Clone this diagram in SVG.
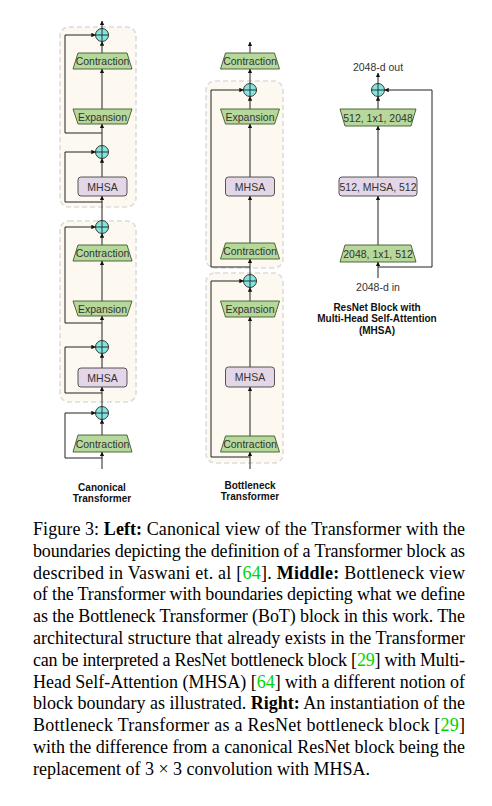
<svg xmlns="http://www.w3.org/2000/svg" width="492" height="806" viewBox="0 0 492 806">
<defs>
<marker id="ah" viewBox="0 0 8 8" refX="7.5" refY="4" markerWidth="4.5" markerHeight="4.5" orient="auto" markerUnits="userSpaceOnUse">
<path d="M0,0 L8,4 L0,8 Z" fill="#111"/>
</marker>
<style>
.bnd{fill:#fdf9f0;stroke:#dcdcdc;stroke-width:1.6;stroke-dasharray:5 3}
.tz{fill:#b7d89b;stroke:#3f5a2a;stroke-width:0.9}
.mh{fill:#e3d6e6;stroke:#444;stroke-width:0.9}
.pl{fill:#82e6df;stroke:#222;stroke-width:0.9}
.cr{stroke:#222;stroke-width:0.9}
.ln{fill:none;stroke:#222;stroke-width:1}
.ar{fill:none;stroke:#222;stroke-width:1;marker-end:url(#ah)}
.nt{font-family:"Liberation Sans",Arial,sans-serif;font-size:10.5px;fill:#333;text-anchor:middle}
.rt{font-family:"Liberation Sans",Arial,sans-serif;font-size:10.5px;fill:#333;text-anchor:middle}
.lb{font-family:"Liberation Sans",Arial,sans-serif;font-size:10px;font-weight:bold;fill:#111;text-anchor:middle}
.cap{font-family:"Liberation Serif","Times New Roman",serif;font-size:18px;fill:#000}
.b{font-weight:bold}
.g{fill:#00d400}
</style>
</defs>
<rect width="492" height="806" fill="#fff"/>

<g id="boundaries">
<rect class="bnd" x="60" y="27" width="76" height="180" rx="9"/>
<rect class="bnd" x="60" y="221" width="76" height="181" rx="9"/>
<rect class="bnd" x="206" y="81" width="77" height="187" rx="9"/>
<rect class="bnd" x="206" y="273" width="77" height="190" rx="9"/>
</g>

<g id="connectors">
<line class="ar" x1="102" y1="29" x2="102" y2="21"/>
<line class="ar" x1="102" y1="53" x2="102" y2="41.5"/>
<line class="ar" x1="102" y1="109" x2="102" y2="69"/>
<line class="ar" x1="102" y1="145.5" x2="102" y2="124"/>
<path class="ar" d="M102,133 H65 V35 H95.5"/>
<line class="ar" x1="102" y1="177" x2="102" y2="158.5"/>
<line class="ar" x1="102" y1="220.5" x2="102" y2="196"/>
<path class="ar" d="M102,202 H65 V152 H95.5"/>
<line class="ar" x1="102" y1="245" x2="102" y2="233.5"/>
<line class="ar" x1="102" y1="301" x2="102" y2="261"/>
<line class="ar" x1="102" y1="340.5" x2="102" y2="316"/>
<path class="ar" d="M102,323 H65 V227 H95.5"/>
<line class="ar" x1="102" y1="368" x2="102" y2="353.5"/>
<line class="ar" x1="102" y1="406.5" x2="102" y2="387"/>
<path class="ar" d="M102,393 H65 V347 H95.5"/>
<line class="ar" x1="102" y1="435" x2="102" y2="419.5"/>
<path class="ar" d="M102,458 H65 V413 H95.5"/>
<line class="ar" x1="102" y1="469" x2="102" y2="452"/>
<line class="ar" x1="250" y1="53" x2="250" y2="42"/>
<line class="ar" x1="250" y1="83.5" x2="250" y2="69"/>
<line class="ar" x1="250" y1="109" x2="250" y2="96.5"/>
<line class="ar" x1="250" y1="177" x2="250" y2="124"/>
<line class="ar" x1="250" y1="243" x2="250" y2="196"/>
<path class="ar" d="M250,267 H211 V90 H243.5"/>
<line class="ar" x1="250" y1="274.5" x2="250" y2="259"/>
<line class="ar" x1="250" y1="301" x2="250" y2="287.5"/>
<line class="ar" x1="250" y1="367" x2="250" y2="317"/>
<line class="ar" x1="250" y1="436" x2="250" y2="387"/>
<path class="ar" d="M250,457 H211 V281 H243.5"/>
<line class="ar" x1="250" y1="469" x2="250" y2="452"/>
<line class="ar" x1="378" y1="83.5" x2="378" y2="73"/>
<line class="ar" x1="378" y1="109" x2="378" y2="96.5"/>
<line class="ar" x1="378" y1="177" x2="378" y2="126"/>
<line class="ar" x1="378" y1="245" x2="378" y2="196"/>
<path class="ar" d="M378,267 H432 V90 H384.5"/>
<line class="ar" x1="378" y1="278" x2="378" y2="262"/>
</g>

<g id="l-plus1"><circle class="pl" cx="102" cy="35" r="6.5"/><path class="cr" d="M95.5,35 H108.5 M102,28.5 V41.5"/></g>
<g id="l-contraction1"><polygon class="tz" points="78,53 127,53 132,69 73,69"/><text class="nt" x="102.5" y="65">Contraction</text></g>
<g id="l-expansion1"><polygon class="tz" points="73,109 132,109 127,124 78,124"/><text class="nt" x="102.5" y="120.5">Expansion</text></g>
<g id="l-plus2"><circle class="pl" cx="102" cy="152" r="6.5"/><path class="cr" d="M95.5,152 H108.5 M102,145.5 V158.5"/></g>
<g id="l-mhsa1"><rect class="mh" x="78" y="177" width="49" height="19" rx="3"/><text class="nt" x="102.5" y="190.5">MHSA</text></g>
<g id="l-plus3"><circle class="pl" cx="102" cy="227" r="6.5"/><path class="cr" d="M95.5,227 H108.5 M102,220.5 V233.5"/></g>
<g id="l-contraction2"><polygon class="tz" points="78,245 127,245 132,261 73,261"/><text class="nt" x="102.5" y="257">Contraction</text></g>
<g id="l-expansion2"><polygon class="tz" points="73,301 132,301 127,316 78,316"/><text class="nt" x="102.5" y="312.5">Expansion</text></g>
<g id="l-plus4"><circle class="pl" cx="102" cy="347" r="6.5"/><path class="cr" d="M95.5,347 H108.5 M102,340.5 V353.5"/></g>
<g id="l-mhsa2"><rect class="mh" x="78" y="368" width="49" height="19" rx="3"/><text class="nt" x="102.5" y="381.5">MHSA</text></g>
<g id="l-plus5"><circle class="pl" cx="102" cy="413" r="6.5"/><path class="cr" d="M95.5,413 H108.5 M102,406.5 V419.5"/></g>
<g id="l-contraction3"><polygon class="tz" points="78,435 127,435 132,452 73,452"/><text class="nt" x="102.5" y="447.5">Contraction</text></g>
<g id="l-label"><text class="lb" x="102" y="491">Canonical</text><text class="lb" x="102" y="502">Transformer</text></g>

<g id="m-contraction-top"><polygon class="tz" points="225.5,53 274.5,53 279.5,69 220.5,69"/><text class="nt" x="250" y="65">Contraction</text></g>
<g id="m-plus1"><circle class="pl" cx="250" cy="90" r="6.5"/><path class="cr" d="M243.5,90 H256.5 M250,83.5 V96.5"/></g>
<g id="m-expansion1"><polygon class="tz" points="220.5,109 279.5,109 274.5,124 225.5,124"/><text class="nt" x="250" y="120.5">Expansion</text></g>
<g id="m-mhsa1"><rect class="mh" x="225.5" y="177" width="49" height="19" rx="3"/><text class="nt" x="250" y="190.5">MHSA</text></g>
<g id="m-contraction1"><polygon class="tz" points="225.5,243 274.5,243 279.5,259 220.5,259"/><text class="nt" x="250" y="255">Contraction</text></g>
<g id="m-plus2"><circle class="pl" cx="250" cy="281" r="6.5"/><path class="cr" d="M243.5,281 H256.5 M250,274.5 V287.5"/></g>
<g id="m-expansion2"><polygon class="tz" points="220.5,301 279.5,301 274.5,317 225.5,317"/><text class="nt" x="250" y="313">Expansion</text></g>
<g id="m-mhsa2"><rect class="mh" x="225.5" y="367" width="49" height="20" rx="3"/><text class="nt" x="250" y="381">MHSA</text></g>
<g id="m-contraction2"><polygon class="tz" points="225.5,436 274.5,436 279.5,452 220.5,452"/><text class="nt" x="250" y="448">Contraction</text></g>
<g id="m-label"><text class="lb" x="250" y="489">Bottleneck</text><text class="lb" x="250" y="500">Transformer</text></g>

<g id="r-out"><text class="rt" x="378" y="71">2048-d out</text></g>
<g id="r-plus"><circle class="pl" cx="378" cy="90" r="6.5"/><path class="cr" d="M371.5,90 H384.5 M378,83.5 V96.5"/></g>
<g id="r-expand"><polygon class="tz" points="340,109 416,109 411,126 345,126"/><text class="rt" x="378" y="121.5">512, 1x1, 2048</text></g>
<g id="r-mhsa"><rect class="mh" x="339" y="177" width="78" height="19" rx="3"/><text class="rt" x="378" y="190.5">512, MHSA, 512</text></g>
<g id="r-reduce"><polygon class="tz" points="345,245 411,245 416,262 340,262"/><text class="rt" x="378" y="257.5">2048, 1x1, 512</text></g>
<g id="r-in"><text class="rt" x="378" y="291">2048-d in</text></g>
<g id="r-label"><text class="lb" x="377" y="310.5">ResNet Block with</text><text class="lb" x="377" y="322">Multi-Head Self-Attention</text><text class="lb" x="377" y="334">(MHSA)</text></g>

<g id="caption" class="cap">
<text x="33" y="535" textLength="432" lengthAdjust="spacing">Figure 3: <tspan class="b">Left:</tspan> Canonical view of the Transformer with the</text>
<text x="33" y="556.8" textLength="432" lengthAdjust="spacing">boundaries depicting the definition of a Transformer block as</text>
<text x="33" y="578.6" textLength="432" lengthAdjust="spacing">described in Vaswani et. al [<tspan class="g">64</tspan>]. <tspan class="b">Middle:</tspan> Bottleneck view</text>
<text x="33" y="600.4" textLength="432" lengthAdjust="spacing">of the Transformer with boundaries depicting what we define</text>
<text x="33" y="622.2" textLength="432" lengthAdjust="spacing">as the Bottleneck Transformer (BoT) block in this work. The</text>
<text x="33" y="644" textLength="432" lengthAdjust="spacing">architectural structure that already exists in the Transformer</text>
<text x="33" y="665.8" textLength="432" lengthAdjust="spacing">can be interpreted a ResNet bottleneck block [<tspan class="g">29</tspan>] with Multi-</text>
<text x="33" y="687.6" textLength="432" lengthAdjust="spacing">Head Self-Attention (MHSA) [<tspan class="g">64</tspan>] with a different notion of</text>
<text x="33" y="709.4" textLength="432" lengthAdjust="spacing">block boundary as illustrated. <tspan class="b">Right:</tspan> An instantiation of the</text>
<text x="33" y="731.2" textLength="432" lengthAdjust="spacing">Bottleneck Transformer as a ResNet bottleneck block [<tspan class="g">29</tspan>]</text>
<text x="33" y="753" textLength="432" lengthAdjust="spacing">with the difference from a canonical ResNet block being the</text>
<text x="33" y="774.8">replacement of 3 × 3 convolution with MHSA.</text>
</g>
</svg>
